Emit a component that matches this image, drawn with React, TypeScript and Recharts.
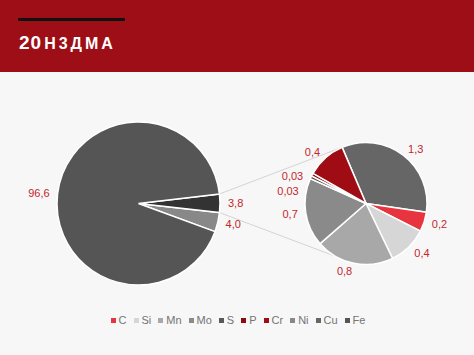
import React from 'react';
import { Cell, Legend, Pie, PieChart } from 'recharts';

// main pie
const MAIN_NAMES = ['Ni', 'Прочие', 'Fe'];
const MAIN_VALUES = [4.0, 3.8, 96.6];

// secondary pie ("Прочие" split out)
const DETAIL_NAMES = ['Cu', 'C', 'Si', 'Mn', 'Mo', 'S', 'P', 'Cr'];
const DETAIL_VALUES = [1.3, 0.2, 0.4, 0.8, 0.7, 0.03, 0.03, 0.4];

const LEGEND_NAMES = ['C', 'Si', 'Mn', 'Mo', 'S', 'P', 'Cr', 'Ni', 'Cu', 'Fe'];

const COLORS: Record<string, string> = {
  C: '#e8343e',
  Si: '#d6d6d6',
  Mn: '#a8a8a8',
  Mo: '#8a8a8a',
  S: '#595959',
  P: '#8c0a10',
  Cr: '#a00c14',
  Ni: '#888888',
  Cu: '#666666',
  Fe: '#555555',
  Прочие: '#333333',
};

// small nudges for the two tiny slices so their labels don't collide
const LABEL_NUDGE: Record<string, { dx: number; dy: number }> = {
  S: { dx: -5, dy: 17 },
  P: { dx: -2, dy: 5 },
};

const W = 474;
const H = 355;
const HEADER = 72;
const CHART_H = H - HEADER;

const MAIN = { cx: 138.5, cy: 131.5, r: 81.5, start: -20.2 };
const DETAIL = { cx: 366, cy: 131.5, r: 61, start: 113 };
const CONNECT_TOP = 111;
const CONNECT_BOTTOM = -120;

const RAD = Math.PI / 180;
const LABEL_RED = '#c5262d';
const FONT = '"Liberation Sans", Arial, sans-serif';

const mainData = MAIN_NAMES.map((name, i) => ({ name, value: MAIN_VALUES[i] }));
const detailData = DETAIL_NAMES.map((name, i) => ({ name, value: DETAIL_VALUES[i] }));

const fmt = (v: number) => (v < 0.1 ? v.toFixed(2) : v.toFixed(1)).replace('.', ',');

const renderLabel = (props: any) => {
  const { cx, cy, midAngle, outerRadius, value, name } = props;
  const r = outerRadius + 8;
  const cos = Math.cos(-midAngle * RAD);
  const sin = Math.sin(-midAngle * RAD);
  const nudge = LABEL_NUDGE[name] || { dx: 0, dy: 0 };
  return (
    <text
      x={cx + r * cos + nudge.dx}
      y={cy + r * sin + nudge.dy}
      fill={LABEL_RED}
      fontSize={11}
      fontFamily={FONT}
      textAnchor={cos >= 0 ? 'start' : 'end'}
      dominantBaseline="central"
    >
      {fmt(value)}
    </text>
  );
};

const pt = (c: { cx: number; cy: number; r: number }, a: number) => ({
  x: c.cx + c.r * Math.cos(a * RAD),
  y: HEADER + c.cy - c.r * Math.sin(a * RAD),
});

const Connectors = () => {
  const total = MAIN_VALUES.reduce((s, v) => s + v, 0);
  const a1 = MAIN.start + (360 * MAIN_VALUES[0]) / total;
  const a2 = a1 + (360 * MAIN_VALUES[1]) / total;
  const p1 = pt(MAIN, a2);
  const q1 = pt(DETAIL, CONNECT_TOP);
  const p2 = pt(MAIN, a1);
  const q2 = pt(DETAIL, CONNECT_BOTTOM);
  return (
    <svg width={W} height={H} style={{ position: 'absolute', left: 0, top: 0 }}>
      <line x1={p1.x} y1={p1.y} x2={q1.x} y2={q1.y} stroke="#d4d4d4" strokeWidth={1} />
      <line x1={p2.x} y1={p2.y} x2={q2.x} y2={q2.y} stroke="#d4d4d4" strokeWidth={1} />
    </svg>
  );
};

const LegendContent = () => (
  <div
    style={{
      display: 'flex',
      justifyContent: 'center',
      gap: 7,
      fontFamily: FONT,
      fontSize: 11,
      color: '#747474',
      lineHeight: '14px',
      paddingLeft: 2,
    }}
  >
    {LEGEND_NAMES.map((n) => (
      <span key={n} style={{ display: 'flex', alignItems: 'center' }}>
        <span style={{ width: 5, height: 5, background: COLORS[n], marginRight: 3 }} />
        {n}
      </span>
    ))}
  </div>
);

export default function App() {
  return (
    <div
      style={{
        position: 'absolute',
        left: 0,
        top: 0,
        width: W,
        height: H,
        background: '#f7f7f7',
        overflow: 'hidden',
      }}
    >
      <div style={{ height: HEADER, background: '#9e0e16', position: 'relative' }}>
        <div style={{ position: 'absolute', left: 18, top: 18, width: 107, height: 3, background: '#111' }} />
        <div
          style={{
            position: 'absolute',
            left: 19,
            top: 32,
            color: '#fff',
            fontFamily: FONT,
            fontWeight: 'bold',
            whiteSpace: 'nowrap',
          }}
        >
          <span style={{ fontSize: 19, letterSpacing: 1 }}>20</span>
          <span style={{ fontSize: 16, letterSpacing: 3, marginLeft: 2 }}>Н3ДМА</span>
        </div>
      </div>
      <Connectors />
      <div style={{ position: 'absolute', left: 0, top: HEADER }}>
        <PieChart width={W} height={CHART_H} margin={{ top: 0, right: 0, bottom: 0, left: 0 }}>
          <Pie
            data={mainData}
            dataKey="value"
            nameKey="name"
            cx={MAIN.cx}
            cy={MAIN.cy}
            outerRadius={MAIN.r}
            startAngle={MAIN.start}
            endAngle={MAIN.start + 360}
            stroke="#ffffff"
            strokeWidth={1.5}
            label={renderLabel}
            labelLine={false}
            isAnimationActive={false}
          >
            {mainData.map((d) => (
              <Cell key={d.name} fill={COLORS[d.name]} />
            ))}
          </Pie>
          <Pie
            data={detailData}
            dataKey="value"
            nameKey="name"
            cx={DETAIL.cx}
            cy={DETAIL.cy}
            outerRadius={DETAIL.r}
            startAngle={DETAIL.start}
            endAngle={DETAIL.start - 360}
            stroke="#ffffff"
            strokeWidth={1.5}
            label={renderLabel}
            labelLine={false}
            isAnimationActive={false}
          >
            {detailData.map((d) => (
              <Cell key={d.name} fill={COLORS[d.name]} />
            ))}
          </Pie>
          <Legend content={<LegendContent />} wrapperStyle={{ top: 241, left: 0, width: W }} />
        </PieChart>
      </div>
    </div>
  );
}
